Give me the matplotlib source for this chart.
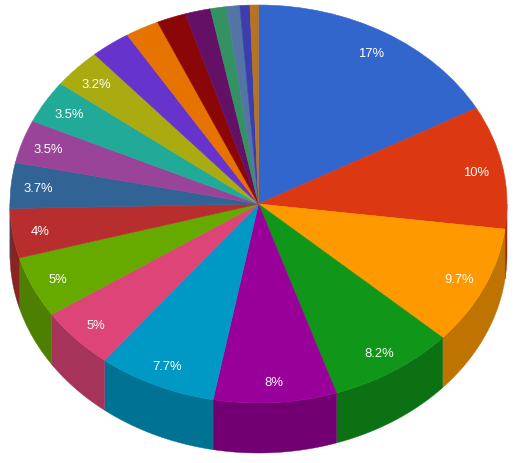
from __future__ import annotations

import matplotlib

matplotlib.use("Agg")

import matplotlib.pyplot as plt
import numpy as np
from matplotlib.colors import to_rgb

plt.rcParams["font.family"] = ["Liberation Sans", "DejaVu Sans"]

shares = [17, 10, 9.7, 8.2, 8, 7.7, 5, 5, 4, 3.7, 3.5, 3.5, 3.2, 2.6, 2.2, 1.9, 1.65, 1.05, 0.85, 0.65, 0.55]
share_labels = ["17%", "10%", "9.7%", "8.2%", "8%", "7.7%", "5%", "5%", "4%", "3.7%", "3.5%", "3.5%", "3.2%"]
slice_colours = [
    "#3366cc", "#dc3912", "#ff9900", "#109618", "#990099", "#0099c6", "#dd4477",
    "#66aa00", "#b82e2e", "#316395", "#994499", "#22aa99", "#aaaa11", "#6633cc",
    "#e67300", "#8b0707", "#651067", "#329262", "#5574a6", "#3b3eac", "#b77322",
]

WIDTH, HEIGHT = 520, 463
CX, CY = 258.5, 204.0
RX, RY = 248.5, 199.0
DEPTH = 50.0 / RY
LABEL_RADIUS = 0.89
LABEL_DROP = 2.0 / RY


def main() -> None:
    fig = plt.figure(figsize=(WIDTH / 100, HEIGHT / 100), dpi=100)
    ax = fig.add_axes([0, 0, 1, 1])

    wedges, _ = ax.pie(
        shares,
        colors=slice_colours,
        startangle=90,
        counterclock=False,
        radius=1,
    )
    ax.set_aspect("auto")
    ax.set_xlim(-CX / RX, (WIDTH - CX) / RX)
    ax.set_ylim((CY - HEIGHT) / RY, CY / RY)
    ax.set_axis_off()

    # side wall, only the front half of the rim shows
    for wedge, colour in zip(wedges, slice_colours):
        wedge.set_zorder(3)
        wedge.set_edgecolor(colour)  # hides the white seams between slices
        wedge.set_linewidth(0.4)
        low = max(wedge.theta1, -180.0)
        high = min(wedge.theta2, 0.0)
        if high <= low:
            continue
        angles = np.deg2rad(np.linspace(low, high, 60))
        xs = np.cos(angles)
        ys = np.sin(angles)
        dark = tuple(channel * 0.75 for channel in to_rgb(colour))
        ax.fill(
            np.concatenate([xs, xs[::-1]]),
            np.concatenate([ys, ys[::-1] - DEPTH]),
            color=dark,
            linewidth=0.3,
            zorder=2,
        )

    for wedge, label in zip(wedges, share_labels):
        mid = np.deg2rad((wedge.theta1 + wedge.theta2) / 2)
        ax.text(
            LABEL_RADIUS * np.cos(mid),
            LABEL_RADIUS * np.sin(mid) - LABEL_DROP,
            label,
            color="white",
            fontsize=9.4,
            ha="center",
            va="center",
            zorder=4,
        )

    fig.savefig("out.png", dpi=100, facecolor="white")
    plt.close(fig)


if __name__ == "__main__":
    main()
